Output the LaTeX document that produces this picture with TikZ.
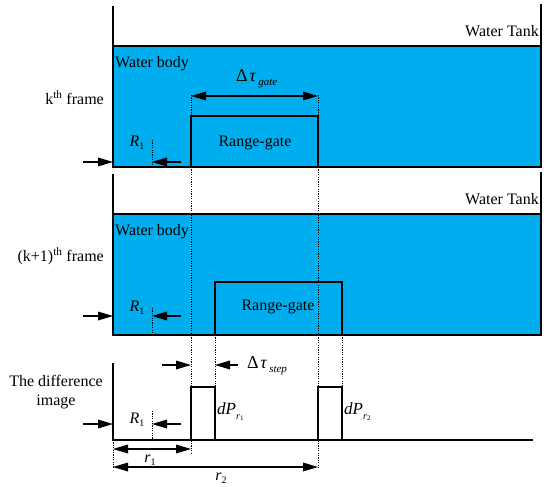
\documentclass[tikz,border=0pt]{standalone}
\usepackage{fontspec}
\setmainfont{Liberation Serif}
\newfontfamily\tnr{Liberation Serif}
\definecolor{water}{HTML}{00AEEF}
\newcommand\sbs[1]{\raisebox{-0.5ex}{\fontsize{11}{11}\selectfont\itshape #1}}
\newcommand\ssbs[1]{\raisebox{-0.3ex}{\fontsize{7}{7}\selectfont #1}}
\newcommand\subone[1]{\raisebox{-0.4ex}{\fontsize{10}{10}\selectfont #1}}
% filled arrow heads: tip at (#1,#2)
\newcommand\headR[2]{\fill (#1,#2) -- ++(-15,-4.5) -- ++(0,9) -- cycle;}
\newcommand\headL[2]{\fill (#1,#2) -- ++(15,-4.5) -- ++(0,9) -- cycle;}
\tikzset{
  wall/.style={line width=1.2pt},
  frameline/.style={line width=1.2pt},
  guide/.style={line width=0.9pt, dash pattern=on 1.2pt off 1.2pt},
  arrline/.style={line width=1.1pt},
  txt/.style={inner sep=0pt, font=\tnr\fontsize{16}{19}\selectfont},
}
\begin{document}
\begin{tikzpicture}[x=1pt,y=-1pt]
\useasboundingbox (0,0) rectangle (550,487);
% guides
\coordinate (g1t) at (191,95);  \coordinate (g1b) at (191,453);
\coordinate (g2t) at (318,95);  \coordinate (g2b) at (318,468);
\coordinate (g3t) at (215,335); \coordinate (g3b) at (215,387);
\coordinate (g4t) at (342,335); \coordinate (g4b) at (342,387);
% ---------- tank 1 ----------
\fill[water] (113,46) rectangle (541,167);
\draw[wall] (113,6) -- (113,167) -- (541,167) -- (541,4);
\draw[wall] (113,46) -- (541,46);
\draw[frameline] (191,167) -- (191,116) -- (318,116) -- (318,167);
\node[txt, anchor=east] (wt1) at (539,31) {Water Tank};
\node[txt, anchor=west] (wb1) at (115,64) {Water body};
\node[txt, anchor=east] (kf) at (104,98) {k\textsuperscript{th} frame};
\node[txt] (rg1) at (255,143) {Range-gate};
% ---------- tank 2 ----------
\fill[water] (113,214) rectangle (541,335);
\draw[wall] (113,174) -- (113,335) -- (541,335) -- (541,172);
\draw[wall] (113,214) -- (541,214);
\draw[frameline] (215,335) -- (215,282) -- (342,282) -- (342,335);
\node[txt, anchor=east] (wt2) at (539,199) {Water Tank};
\node[txt, anchor=west] (wb2) at (115,232) {Water body};
\node[txt, anchor=east] (kf2) at (104,256) {(k+1)\textsuperscript{th} frame};
\node[txt] (rg2) at (278,307) {Range-gate};
% ---------- difference image ----------
\draw[wall] (113,363) -- (113,440) -- (533,440);
\draw[frameline] (191,440) -- (191,387) -- (215,387) -- (215,440);
\draw[frameline] (318,440) -- (318,387) -- (342,387) -- (342,440);
\node[txt, align=center] (di) at (56,392) {The difference\\image};
% ---------- guide lines ----------
\draw[guide] (g1t) -- (g1b);
\draw[guide] (g2t) -- (g2b);
\draw[guide] (g3t) -- (g3b);
\draw[guide] (g4t) -- (g4b);
\draw[guide] (113,440) -- (113,468);
% ---------- delta tau gate ----------
\draw[arrline] (200,96) -- (309,96);
\headL{191}{96} \headR{318}{96}
\node[txt, anchor=west] (dtg) at (236,79) {\fontsize{18}{20}\selectfont Δ\kern1.5pt\textit{τ}\kern2pt\sbs{gate}};
% ---------- R1 markers ----------
\foreach \y/\top/\bot/\ly in {162/140/167/143, 316/308/335/308, 424/411/440/420}{
  \draw[arrline] (83,\y) -- (104,\y);
  \headR{113}{\y}
  \draw[arrline] (181,\y) -- (160,\y);
  \headL{152}{\y}
  \draw[guide] (152,\top) -- (152,\bot);
  \node[txt] at (137,\ly) {\textit{R}\subone{1}};
}
% ---------- delta tau step ----------
\draw[arrline] (162,365) -- (182,365);
\headR{191}{365}
\draw[arrline] (238,365) -- (224,365);
\headL{215}{365}
\node[txt, anchor=west] (dts) at (247,366) {\fontsize{18}{20}\selectfont Δ\kern1.5pt\textit{τ}\kern2pt\sbs{step}};
% ---------- dP labels ----------
\node[txt, anchor=west] (dp1) at (217,412) {\fontsize{17}{20}\selectfont\textit{dP}\raisebox{-0.6ex}{\fontsize{10}{10}\selectfont\textit{r}\ssbs{1}}};
\node[txt, anchor=west] (dp2) at (344,412) {\fontsize{17}{20}\selectfont\textit{dP}\raisebox{-0.6ex}{\fontsize{10}{10}\selectfont\textit{r}\ssbs{2}}};
% ---------- r1, r2 ----------
\draw[arrline] (122,449) -- (182,449);
\headL{113}{449} \headR{191}{449}
\node[txt] (r1) at (150,460) {\textit{r}\subone{1}};
\draw[arrline] (122,467) -- (309,467);
\headL{113}{467} \headR{318}{467}
\node[txt] (r2) at (221,478) {\textit{r}\subone{2}};
\end{tikzpicture}
\end{document}
